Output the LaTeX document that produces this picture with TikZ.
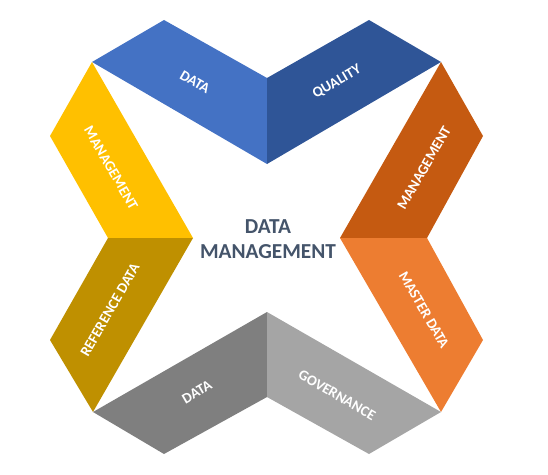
\documentclass[tikz,border=0pt]{standalone}
\usepackage{fontspec}
\setmainfont{Carlito}
\usepackage{tikz}
\usetikzlibrary{calc}

\definecolor{dmBlue}{HTML}{4472C4}
\definecolor{dmNavy}{HTML}{2F5597}
\definecolor{dmYellow}{HTML}{FFC000}
\definecolor{dmGold}{HTML}{BF9000}
\definecolor{dmRust}{HTML}{C55A11}
\definecolor{dmOrange}{HTML}{ED7D31}
\definecolor{dmGray}{HTML}{7F7F7F}
\definecolor{dmSilver}{HTML}{A5A5A5}
\definecolor{dmSlate}{HTML}{44546A}

\begin{document}
\begin{tikzpicture}[
  x=0.75pt, y=-0.75pt,
  panel/.style={fill=#1, draw=none},
  label/.style={font=\fontsize{11}{13}\selectfont\bfseries, text=white, inner sep=0pt},
  title/.style={font=\fontsize{16}{19}\selectfont\bfseries, text=dmSlate, align=center},
]
\useasboundingbox (0,0) rectangle (548,474);

% Corner points
\coordinate (tl) at (92,62);
\coordinate (tt1) at (164,20);
\coordinate (tc) at (267,78);
\coordinate (ti) at (267,164);
\coordinate (tt2) at (369,20);
\coordinate (tr) at (441,62);
\coordinate (lm) at (50,136);
\coordinate (li) at (108,238);
\coordinate (lc) at (193,238);
\coordinate (lb) at (50,340);
\coordinate (bl) at (93,412);
\coordinate (rm) at (483,136);
\coordinate (rc) at (340,238);
\coordinate (ri) at (427,238);
\coordinate (rb) at (483,340);
\coordinate (br) at (441,412);
\coordinate (bc) at (267,312);
\coordinate (bi) at (267,397);
\coordinate (bb1) at (164,454);
\coordinate (bb2) at (369,454);

% Top arm
\fill[panel=dmBlue] (tl) -- (tt1) -- (tc) -- (ti) -- cycle;
\fill[panel=dmNavy] (tc) -- (tt2) -- (tr) -- (ti) -- cycle;
% Left arm
\fill[panel=dmYellow] (tl) -- (lm) -- (li) -- (lc) -- cycle;
\fill[panel=dmGold] (li) -- (lc) -- (bl) -- (lb) -- cycle;
% Right arm
\fill[panel=dmRust] (tr) -- (rm) -- (ri) -- (rc) -- cycle;
\fill[panel=dmOrange] (rc) -- (ri) -- (rb) -- (br) -- cycle;
% Bottom arm
\fill[panel=dmGray] (bl) -- (bc) -- (bi) -- (bb1) -- cycle;
\fill[panel=dmSilver] (bc) -- (br) -- (bb2) -- (bi) -- cycle;

% Labels
\node[label, rotate=-30] (dataTop) at (195,82) {DATA};
\node[label, rotate=30] (quality) at (337,82) {QUALITY};
\node[label, rotate=-60] (mgmtLeft) at (111,168) {MANAGEMENT};
\node[label, rotate=60] (refData) at (110,310) {REFERENCE DATA};
\node[label, rotate=60] (mgmtRight) at (424,168) {MANAGEMENT};
\node[label, rotate=-60] (masterData) at (424,310) {MASTER DATA};
\node[label, rotate=30] (dataBottom) at (197,392) {DATA};
\node[label, rotate=-30] (governance) at (337,395) {GOVERNANCE};

\node[title] (centre) at (268,239) {DATA\\MANAGEMENT};

\end{tikzpicture}
\end{document}
